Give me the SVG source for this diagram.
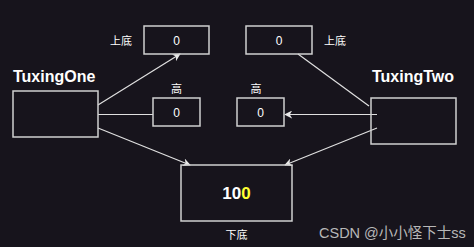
<svg xmlns="http://www.w3.org/2000/svg" width="474" height="247" viewBox="0 0 474 247">
<style>
.box{fill:none;stroke:#d0d0d0;stroke-width:1.5}
.ln{stroke:#e0e0e0;stroke-width:1.2;fill:none}
.t{font-family:"Liberation Sans","Noto Sans CJK SC",sans-serif;fill:#ffffff}
.lbl{font-size:11px;text-anchor:middle}
.val{font-size:12px;text-anchor:middle}
.title{font-size:16px;font-weight:bold}
</style>
<defs>
<marker id="ah" viewBox="0 0 10 10" refX="9" refY="5" markerWidth="8" markerHeight="8" markerUnits="userSpaceOnUse" orient="auto">
<path d="M0,0 L10,5 L0,10 L3,5 Z" fill="#e8e8e8"/>
</marker>
</defs>
<rect width="474" height="247" fill="#17141c"/>
<g id="connectors">
<line class="ln" x1="98" y1="105" x2="180" y2="54" marker-end="url(#ah)"/>
<line class="ln" x1="98" y1="114.5" x2="153" y2="114.5"/>
<line class="ln" x1="98" y1="128" x2="190" y2="165" marker-end="url(#ah)"/>
<line class="ln" x1="369" y1="106" x2="298" y2="54"/>
<line class="ln" x1="377" y1="114.5" x2="285" y2="114.5" marker-end="url(#ah)"/>
<line class="ln" x1="377" y1="128" x2="285" y2="165" marker-end="url(#ah)"/>
</g>
<g id="tuxingOne">
<text class="t title" x="13" y="82">TuxingOne</text>
<rect class="box" x="13" y="91" width="85" height="46"/>
</g>
<g id="tuxingTwo">
<text class="t title" x="372" y="82">TuxingTwo</text>
<rect class="box" x="371" y="98" width="85" height="46"/>
</g>
<g id="shangdi1">
<text class="t lbl" x="121" y="45">上底</text>
<rect class="box" x="144" y="26" width="65" height="28"/>
<text class="t val" x="176.5" y="44.5">0</text>
</g>
<g id="shangdi2">
<text class="t lbl" x="335" y="45">上底</text>
<rect class="box" x="246" y="26" width="66" height="28"/>
<text class="t val" x="279" y="44.5">0</text>
</g>
<g id="gao1">
<text class="t lbl" x="176.5" y="93">高</text>
<rect class="box" x="153" y="98" width="47" height="28"/>
<text class="t val" x="176.5" y="116.5">0</text>
</g>
<g id="gao2">
<text class="t lbl" x="256" y="93">高</text>
<rect class="box" x="237" y="98" width="47" height="28"/>
<text class="t val" x="260.5" y="116.5">0</text>
</g>
<g id="xiadi">
<rect class="box" x="181" y="165" width="111" height="56"/>
<text class="t" x="236.5" y="199" font-size="17" font-weight="bold" text-anchor="middle">10<tspan fill="#ffff33">0</tspan></text>
<text class="t lbl" x="236.5" y="239">下底</text>
</g>
<text x="319" y="238" font-family="'Liberation Sans','Noto Sans CJK SC',sans-serif" font-size="14.5" fill="#b8b8b8">CSDN @小小怪下士ss</text>
</svg>
